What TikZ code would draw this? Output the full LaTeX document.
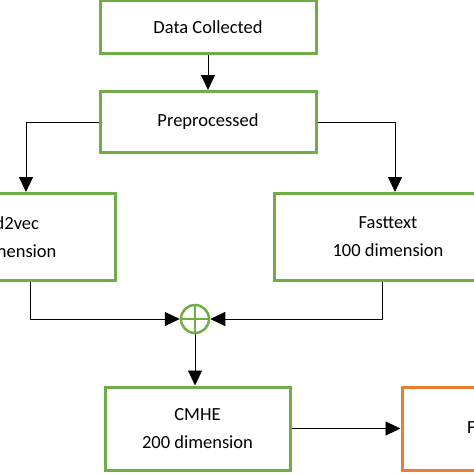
\documentclass[tikz,border=0pt]{standalone}
\usepackage{fontspec}
\setmainfont{Carlito}
\usetikzlibrary{arrows.meta}
\definecolor{boxgreen}{RGB}{112,173,71}
\definecolor{boxorange}{RGB}{237,125,49}
\tikzset{
  greenbox/.style={draw=boxgreen,line width=3pt,fill=white,align=center,inner sep=0pt},
  orangebox/.style={draw=boxorange,line width=3pt,fill=white,inner sep=0pt},
  flowarrow/.style={draw=black,line width=0.9pt,-{Triangle[length=15pt,width=14pt]}},
  flowline/.style={draw=black,line width=0.9pt},
  plusnode/.style={circle,draw=boxgreen,line width=2.5pt,minimum size=28pt,inner sep=0pt}
}

\begin{document}
\begin{tikzpicture}[x=1pt,y=-1pt,font=\fontsize{18.5}{28}\selectfont]
  \clip (0,0) rectangle (474,474);
  \fill[white] (0,0) rectangle (474,474);
  % boxes
  \node[greenbox,minimum width=216pt,minimum height=53pt] (collected) at (208,27) {Data Collected};
  \node[greenbox,minimum width=216pt,minimum height=61pt] (prep) at (208,122) {Preprocessed};
  \node[greenbox,minimum width=228pt,minimum height=87pt] (wordvec) at (1,237) {Word2vec\\100 dimension};
  \node[greenbox,minimum width=228pt,minimum height=87pt] (fasttext) at (388,237) {Fasttext\\100 dimension};
  \node[plusnode] (plus) at (195,319) {};
  \draw[boxgreen,line width=2pt] (plus.north) -- (plus.south) (plus.west) -- (plus.east);
  \node[greenbox,minimum width=185pt,minimum height=83pt] (cmhe) at (197.5,428.5) {CMHE\\200 dimension};
  \node[orangebox,minimum width=150pt,minimum height=83pt] (output) at (477,428.5) {};
  \node[anchor=west,inner sep=0pt] (outlabel) at (467,428) {F};
  % connectors
  \draw[flowarrow] (collected) -- (prep);
  \draw[flowarrow] (prep.west) -| ([xshift=25pt]wordvec.north);
  \draw[flowarrow] (prep.east) -| ([xshift=7pt]fasttext.north);
  \draw[flowarrow] ([xshift=29pt]wordvec.south) |- (plus.west);
  \draw[flowarrow] ([xshift=-6pt]fasttext.south) |- (plus.east);
  \draw[flowarrow] (plus.south) -- (plus.south |- cmhe.north);
  \draw[flowarrow] (cmhe.east) -- (output.west |- cmhe.east);
\end{tikzpicture}
\end{document}
